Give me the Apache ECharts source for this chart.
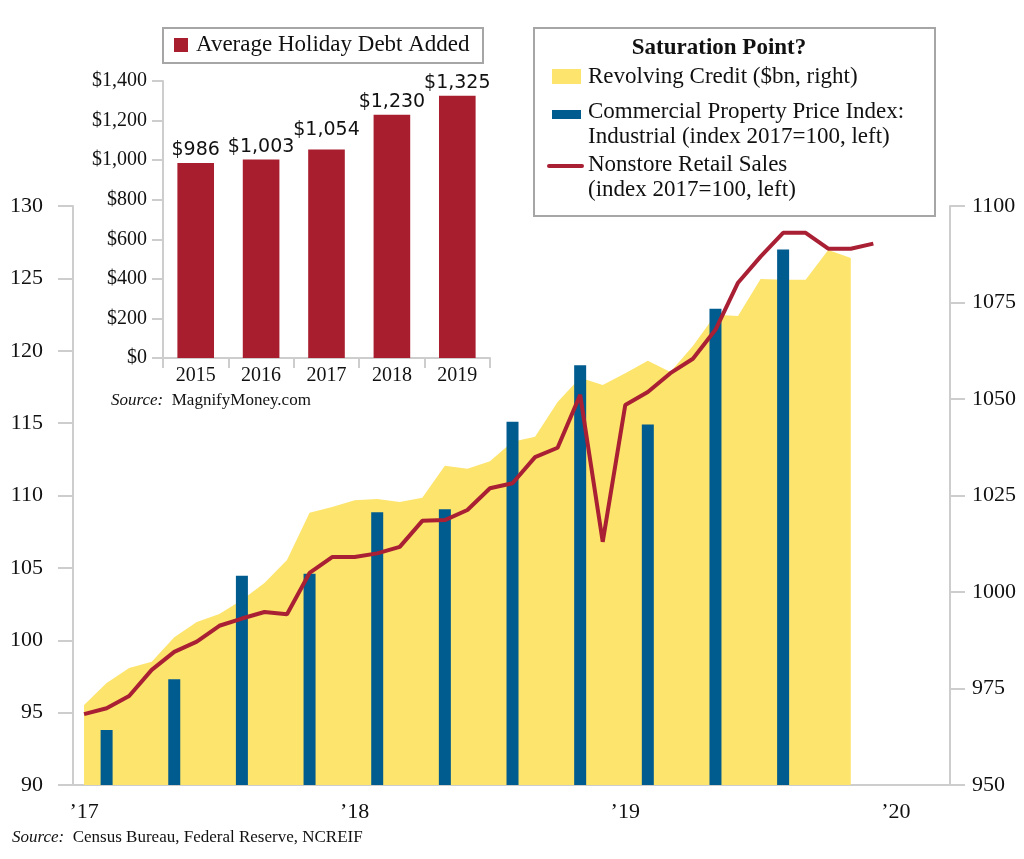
<!DOCTYPE html>
<html lang="en">
<head>
    <meta charset="UTF-8">
    <title>Saturation Point?</title>
    <script type="text/javascript" src="https://cdn.jsdelivr.net/npm/echarts@6/dist/echarts.min.js"></script>
    <style>
        html, body { margin: 0; padding: 0; background: #fff; }
    </style>
</head>
<body>
<div id="main" style="width:1024px;height:859px;"></div>

<script>
    //月份序号：0 = 2017年1月
    const startYear = 17;
    //循环信贷 ($bn, 右轴)，2017年1月 - 2019年11月
    const revolvingCredit = [970.7, 976.4, 980.3, 981.9, 988.3, 992.2, 994.3, 997.9, 1002.3, 1008.3, 1020.5, 1022.0,
        1023.8, 1024.1, 1023.3, 1024.4, 1032.7, 1031.9, 1033.9, 1038.9, 1040.2, 1049.2, 1055.5, 1053.6,
        1056.7, 1059.9, 1057.0, 1063.7, 1071.8, 1071.5, 1081.1, 1080.9, 1080.9, 1088.6, 1086.5];
    //无店铺零售 (index 2017=100, 左轴)，2017年1月 - 2019年12月
    const nonstoreSales = [94.9, 95.3, 96.15, 97.95, 99.2, 99.9, 101.0, 101.5, 101.95, 101.8, 104.65, 105.75,
        105.75, 106.0, 106.45, 108.25, 108.3, 109.0, 110.5, 110.85, 112.65, 113.3, 116.95, 106.8,
        116.25, 117.15, 118.45, 119.45, 121.45, 124.7, 126.5, 128.15, 128.15, 127.05, 127.05, 127.4];
    //商业地产价格指数：工业 (季度)
    const cppiMonths = [1, 4, 7, 10, 13, 16, 19, 22, 25, 28, 31];
    const cppiValues = [93.8, 97.3, 104.45, 104.6, 108.85, 109.05, 115.1, 119.0, 114.9, 122.9, 127.0];
    //x轴标签位置
    const yearTicks = [0, 12, 24, 36];

    //小图：平均节日债务
    const debtYears = ['2015', '2016', '2017', '2018', '2019'];
    const debtValues = [986, 1003, 1054, 1230, 1325];

    const serif = 'Liberation Serif';
    const sans = 'DejaVu Sans';
    const axisGray = '#cdcdcd';
    const yellow = '#fde46c';
    const blue = '#005b8f';
    const red = '#a91f33';
    const debtRed = '#a81e2f';

    let myChart = echarts.init(document.getElementById('main'), null, {renderer: 'canvas'});

    let creditData = revolvingCredit.map((v, i) => [i, v]);
    let salesData = nonstoreSales.map((v, i) => [i, v]);
    let cppiData = cppiMonths.map((m, i) => [m, cppiValues[i]]);

    let option = {
        backgroundColor: '#fff',
        animation: false,
        grid: [
            {left: 73, top: 206, width: 877, height: 579},
            {left: 163, top: 81, width: 327, height: 277}
        ],
        xAxis: [
            {
                type: 'value',
                gridIndex: 0,
                min: -0.49,
                max: 38.4,
                splitLine: {show: false},
                axisTick: {show: false},
                axisLine: {show: true, onZero: false, lineStyle: {color: axisGray, width: 2}},
                axisLabel: {
                    customValues: yearTicks,
                    margin: 16,
                    fontFamily: serif,
                    fontSize: 22,
                    color: '#111',
                    formatter: v => '\u2019' + (startYear + v / 12)
                }
            },
            {
                type: 'category',
                gridIndex: 1,
                data: debtYears,
                axisTick: {show: true, length: 10, lineStyle: {color: axisGray, width: 2}},
                axisLine: {show: true, lineStyle: {color: axisGray, width: 2}},
                axisLabel: {margin: 8, fontFamily: serif, fontSize: 20, color: '#111'}
            }
        ],
        yAxis: [
            {
                type: 'value',
                gridIndex: 0,
                min: 90,
                max: 130,
                interval: 5,
                splitLine: {show: false},
                axisLine: {show: true, onZero: false, lineStyle: {color: axisGray, width: 2}},
                axisTick: {show: true, length: 15, lineStyle: {color: axisGray, width: 2}},
                axisLabel: {margin: 30, fontFamily: serif, fontSize: 22, color: '#111'}
            },
            {
                type: 'value',
                gridIndex: 0,
                position: 'right',
                min: 950,
                max: 1100,
                interval: 25,
                splitLine: {show: false},
                axisLine: {show: true, onZero: false, lineStyle: {color: axisGray, width: 2}},
                axisTick: {show: true, length: 15, lineStyle: {color: axisGray, width: 2}},
                axisLabel: {margin: 22, fontFamily: serif, fontSize: 22, color: '#111',
                    formatter: v => String(v)}
            },
            {
                type: 'value',
                gridIndex: 1,
                min: 0,
                max: 1400,
                interval: 200,
                splitLine: {show: false},
                axisLine: {show: true, lineStyle: {color: axisGray, width: 2}},
                axisTick: {show: true, length: 11, lineStyle: {color: axisGray, width: 2}},
                axisLabel: {
                    margin: 16, fontFamily: serif, fontSize: 20, color: '#111',
                    formatter: v => '$' + v.toLocaleString('en-US')
                }
            }
        ],
        series: [
            {
                name: 'Revolving Credit ($bn, right)',
                type: 'line',
                xAxisIndex: 0,
                yAxisIndex: 1,
                data: creditData,
                symbol: 'none',
                lineStyle: {width: 0},
                areaStyle: {color: yellow, opacity: 1},
                z: 1
            },
            {
                name: 'Commercial Property Price Index: Industrial',
                type: 'bar',
                xAxisIndex: 0,
                yAxisIndex: 0,
                data: cppiData,
                barWidth: 12,
                itemStyle: {color: blue},
                z: 2
            },
            {
                name: 'Nonstore Retail Sales',
                type: 'line',
                xAxisIndex: 0,
                yAxisIndex: 0,
                data: salesData,
                symbol: 'none',
                lineStyle: {color: red, width: 4},
                z: 3
            },
            {
                name: 'Average Holiday Debt Added',
                type: 'bar',
                xAxisIndex: 1,
                yAxisIndex: 2,
                data: debtValues.map((v, i) => i === 2 ? {value: v, label: {offset: [0, -7]}} : v),
                barWidth: '56%',
                itemStyle: {color: debtRed},
                label: {
                    show: true,
                    position: 'top',
                    distance: 3,
                    fontFamily: sans,
                    fontSize: 19,
                    color: '#111',
                    formatter: p => '$' + p.value.toLocaleString('en-US')
                }
            }
        ],
        graphic: [
            //主图图例
            {type: 'rect', shape: {x: 534, y: 28, width: 401, height: 188},
                style: {fill: '#fff', stroke: '#a6a6a6', lineWidth: 2}, z: 10},
            {type: 'text', x: 719, y: 48, z: 11,
                style: {text: 'Saturation Point?', fontFamily: serif, fontWeight: 'bold', fontSize: 23,
                    fill: '#111', align: 'center', verticalAlign: 'middle'}},
            {type: 'rect', shape: {x: 552, y: 69, width: 29, height: 15}, style: {fill: yellow}, z: 11},
            {type: 'text', x: 588, y: 77, z: 11,
                style: {text: 'Revolving Credit ($bn, right)', fontFamily: serif, fontSize: 23,
                    fill: '#111', verticalAlign: 'middle'}},
            {type: 'rect', shape: {x: 552, y: 110, width: 29, height: 9}, style: {fill: blue}, z: 11},
            {type: 'text', x: 588, y: 112, z: 11,
                style: {text: 'Commercial Property Price Index:', fontFamily: serif, fontSize: 23,
                    fill: '#111', verticalAlign: 'middle'}},
            {type: 'text', x: 588, y: 137, z: 11,
                style: {text: 'Industrial (index 2017=100, left)', fontFamily: serif, fontSize: 23,
                    fill: '#111', verticalAlign: 'middle'}},
            {type: 'line', shape: {x1: 549, y1: 166, x2: 582, y2: 166},
                style: {stroke: red, lineWidth: 4, lineCap: 'round'}, z: 11},
            {type: 'text', x: 588, y: 165, z: 11,
                style: {text: 'Nonstore Retail Sales', fontFamily: serif, fontSize: 23,
                    fill: '#111', verticalAlign: 'middle'}},
            {type: 'text', x: 588, y: 190, z: 11,
                style: {text: '(index 2017=100, left)', fontFamily: serif, fontSize: 23,
                    fill: '#111', verticalAlign: 'middle'}},
            //小图图例
            {type: 'rect', shape: {x: 163, y: 28, width: 320, height: 35},
                style: {fill: '#fff', stroke: '#a6a6a6', lineWidth: 2}, z: 10},
            {type: 'rect', shape: {x: 174, y: 38, width: 14, height: 14}, style: {fill: debtRed}, z: 11},
            {type: 'text', x: 196, y: 45, z: 11,
                style: {text: 'Average Holiday Debt Added', fontFamily: serif, fontSize: 23,
                    fill: '#111', verticalAlign: 'middle'}},
            //来源
            {type: 'text', x: 111, y: 401, z: 11,
                style: {
                    text: '{i|Source:}  MagnifyMoney.com',
                    fontFamily: serif, fontSize: 17, fill: '#111', verticalAlign: 'middle',
                    rich: {i: {fontFamily: serif, fontStyle: 'italic', fontSize: 17, fill: '#111'}}
                }},
            {type: 'text', x: 12, y: 838, z: 11,
                style: {
                    text: '{i|Source:}  Census Bureau, Federal Reserve, NCREIF',
                    fontFamily: serif, fontSize: 17, fill: '#111', verticalAlign: 'middle',
                    rich: {i: {fontFamily: serif, fontStyle: 'italic', fontSize: 17, fill: '#111'}}
                }}
        ]
    };

    myChart.setOption(option);
</script>
</body>
</html>
